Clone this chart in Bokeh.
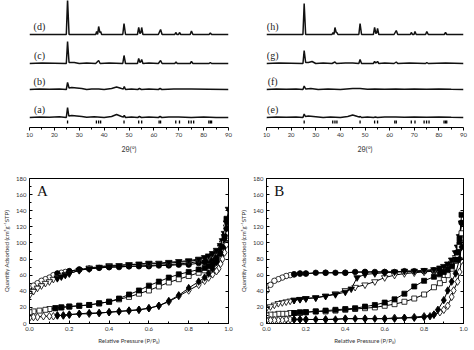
from bokeh.plotting import figure
from bokeh.layouts import gridplot
from bokeh.models import Label, LinearAxis, FixedTicker, Range1d
from bokeh.embed import file_html
from bokeh.resources import INLINE

# ---------------- XRD data (2theta, intensity above baseline) ----------------
ref_peaks = [25.3, 36.9, 37.8, 38.6, 48.0, 53.9, 55.1, 62.1, 62.7, 68.8, 70.3,
             74.0, 75.0, 76.0, 82.1, 82.7, 83.2]

xrd_a_x = [10, 14, 18, 22, 24.8, 25.3, 25.8, 27, 29, 31, 33, 36, 40, 43, 45, 47, 47.7, 48.1, 48.6, 51, 53.5, 54.2, 55, 58, 61.8, 62.5, 63.2, 66, 70, 75, 80, 85, 90]
xrd_a_y = [0, 0.6, 0.3, 0.7, 0, 10, 1.5, 2, 1.5, 1, 0.3, 0.8, 0, 1, 3, 1, 0.5, 2, 0, 0.6, 0, 1, 0, 0.6, 0, 1, 0, 0.6, 0.5, 0, 0.5, 0, 0]
xrd_b_x = [10, 14, 18, 22, 24.8, 25.3, 25.9, 27, 29, 31, 33, 35, 37.8, 40, 43, 45, 47, 47.7, 48.1, 48.6, 51, 53.5, 54.2, 55, 58, 61.8, 62.5, 63.2, 68, 75, 82, 90]
xrd_b_y = [0, 0.5, 0.2, 0.6, 0, 7, 1.5, 2, 1.5, 1, 0, 0.5, 0.5, 0, 1, 2.5, 1, 0.5, 3, 0, 0.5, 0, 1, 0, 0.5, 0, 1, 0, 0.4, 0.5, 0.3, 0]
xrd_c_x = [10, 15, 20, 24.8, 25.3, 25.9, 28, 30, 33, 36.6, 37.8, 38.4, 42, 47.5, 48.0, 48.6, 53.4, 53.9, 54.4, 54.8, 55.1, 55.6, 58, 61.8, 62.7, 63.3, 68.4, 68.9, 69.4, 74.6, 75.1, 75.7, 82.2, 82.7, 83.2, 90]
xrd_c_y = [0, 0.4, 0.2, 0, 22, 1, 1, 0, 0.5, 0, 3, 0, 0.4, 0, 8, 0, 0, 5, 1, 2, 4, 0, 0.4, 0, 3, 0, 0, 1.5, 0, 0, 2, 0, 0, 1, 0, 0]
xrd_d_x = [10, 24.8, 25.3, 25.9, 36.6, 37.0, 37.4, 37.8, 38.3, 38.6, 39.0, 47.5, 48.0, 48.6, 53.4, 53.9, 54.4, 54.8, 55.1, 55.6, 61.8, 62.7, 63.3, 68.4, 68.8, 69.3, 69.9, 70.3, 70.8, 74.6, 75.1, 75.7, 82.2, 82.7, 83.2, 90]
xrd_d_y = [0, 0, 35, 0, 0, 3, 0, 8, 2, 3, 0, 0, 11, 0, 0, 7, 1, 2, 7, 0, 0, 5, 0, 0, 2, 0, 0, 2, 0, 0, 3.5, 0, 0, 1.5, 0, 0]

xrd_e_x = [10, 14, 18, 22, 24.8, 25.3, 25.8, 27, 29, 31, 33, 36, 40, 43, 45, 47, 47.7, 48.1, 48.6, 51, 53.5, 54.2, 55, 58, 62.5, 66, 70, 75, 80, 85, 90]
xrd_e_y = [0, 0.5, 0.2, 0.6, 0, 3.5, 1, 1.5, 1, 0.5, 0, 0.5, 0, 1, 2.5, 1, 0.5, 1, 0, 0.5, 0, 0.5, 0, 0.4, 0.5, 0.2, 0.5, 0.3, 0.5, 0.2, 0]
xrd_f_x = [10, 14, 18, 22, 24.8, 25.3, 25.9, 28, 31, 35, 40, 45, 48, 51, 54, 58, 62.5, 66, 70, 75, 80, 85, 90]
xrd_f_y = [0, 0.5, 0.2, 0.6, 0, 3.5, 0.5, 1, 0, 0.4, 0, 1, 1, 0.3, 0.5, 0.2, 0.5, 0.2, 0.5, 0.3, 0.5, 0.2, 0]
xrd_g_x = [10, 15, 20, 24.8, 25.3, 25.9, 27, 28.5, 30, 33, 36.6, 37.8, 38.4, 42, 45, 47.5, 48.0, 48.6, 53.4, 53.9, 54.4, 55.1, 55.6, 58, 61.8, 62.7, 63.3, 68, 74.6, 75.1, 75.7, 82.7, 90]
xrd_g_y = [0, 0.4, 0.2, 0, 13, 1, 1, 2, 0, 0.4, 0, 1.5, 0, 0.4, 0.5, 0, 4, 0, 0, 2, 0.5, 2, 0, 0.4, 0, 1.5, 0, 0.4, 0, 1, 0, 0.5, 0]
xrd_h_x = [10, 24.8, 25.3, 25.9, 36.6, 37.0, 37.4, 37.8, 38.3, 38.6, 39.0, 47.5, 48.0, 48.6, 53.4, 53.9, 54.4, 54.8, 55.1, 55.6, 61.8, 62.7, 63.3, 68.4, 68.8, 69.3, 69.9, 70.3, 70.8, 74.6, 75.1, 75.7, 82.2, 82.7, 83.2, 90]
xrd_h_y = [0, 0, 31, 0, 0, 2, 0, 7, 2, 2, 0, 0, 11, 0, 0, 7, 1, 2, 6, 0, 0, 4, 0, 0, 2, 0, 0, 3, 0, 0, 3, 0, 0, 2, 0, 0]

xrd_labels_left = ["(a)", "(b)", "(c)", "(d)"]
xrd_labels_right = ["(e)", "(f)", "(g)", "(h)"]
xrd_ticks = [10, 20, 30, 40, 50, 60, 70, 80, 90]

# ---------------- Isotherm data (P/P0, quantity adsorbed) ----------------
A_circ_ads_x = [0.14, 0.2, 0.25, 0.3, 0.35, 0.4, 0.45, 0.5, 0.55, 0.6, 0.65, 0.7, 0.75, 0.8, 0.85, 0.88, 0.9, 0.92, 0.94, 0.96, 0.97, 0.98, 0.99]
A_circ_ads_y = [62, 65, 67, 68, 69, 70, 70, 71, 71, 71, 72, 72, 73, 73, 75, 76, 78, 80, 83, 88, 93, 100, 118]
A_circ_des_x = [0.99, 0.98, 0.97, 0.96, 0.94, 0.92, 0.9, 0.85, 0.8, 0.7, 0.6, 0.5, 0.4, 0.3, 0.25, 0.2, 0.18, 0.16, 0.14, 0.12, 0.1, 0.08, 0.06, 0.04, 0.02, 0.0]
A_circ_des_y = [106, 98, 93, 89, 85, 82, 80, 77, 75, 73, 72, 71, 70, 68, 67, 65, 64, 63, 62, 60, 57, 55, 53, 50, 47, 40]
A_tri_ads_x = [0.14, 0.16, 0.18, 0.2, 0.25, 0.3, 0.35, 0.4, 0.45, 0.5, 0.55, 0.6, 0.65, 0.7, 0.75, 0.8, 0.85, 0.88, 0.9, 0.92, 0.94, 0.96, 0.97, 0.98, 0.99, 1.0]
A_tri_ads_y = [56, 58, 60, 62, 66, 68, 70, 71, 72, 73, 74, 75, 75, 76, 77, 78, 80, 82, 84, 87, 91, 97, 103, 112, 125, 142]
A_tri_des_x = [0.99, 0.98, 0.97, 0.96, 0.94, 0.92, 0.9, 0.85, 0.8, 0.7, 0.6, 0.5, 0.4, 0.3, 0.25, 0.2, 0.18, 0.16, 0.14, 0.12, 0.1, 0.08, 0.06, 0.04, 0.02, 0.0]
A_tri_des_y = [120, 108, 100, 95, 89, 85, 82, 79, 77, 75, 74, 73, 72, 69, 66, 62, 61, 59, 57, 55, 52, 50, 47, 44, 40, 35]
A_sq_ads_x = [0.13, 0.16, 0.2, 0.25, 0.3, 0.35, 0.4, 0.45, 0.5, 0.55, 0.6, 0.65, 0.7, 0.75, 0.8, 0.85, 0.88, 0.9, 0.92, 0.94, 0.96, 0.97, 0.98, 0.99]
A_sq_ads_y = [19, 20, 21, 22, 23, 25, 27, 31, 36, 41, 47, 52, 57, 61, 64, 67, 69, 71, 74, 79, 87, 95, 108, 130]
A_sq_des_x = [0.99, 0.98, 0.97, 0.96, 0.94, 0.92, 0.9, 0.88, 0.85, 0.8, 0.75, 0.7, 0.65, 0.6, 0.55, 0.5, 0.45, 0.4, 0.35, 0.3, 0.25, 0.2, 0.16, 0.13, 0.1, 0.08, 0.05, 0.02, 0.0]
A_sq_des_y = [112, 100, 92, 86, 78, 73, 69, 66, 63, 59, 55, 51, 46, 41, 37, 33, 30, 27, 25, 23, 22, 21, 20, 19, 18, 17, 16, 15, 14]
A_dia_ads_x = [0.14, 0.17, 0.2, 0.25, 0.3, 0.35, 0.4, 0.45, 0.5, 0.55, 0.6, 0.65, 0.7, 0.75, 0.8, 0.85, 0.88, 0.9, 0.92, 0.94, 0.96, 0.98, 0.99]
A_dia_ads_y = [10, 10, 11, 12, 13, 13, 14, 15, 16, 17, 19, 22, 28, 35, 44, 52, 57, 62, 68, 76, 88, 105, 118]
A_dia_des_x = [0.99, 0.98, 0.97, 0.96, 0.95, 0.94, 0.92, 0.9, 0.88, 0.85, 0.8, 0.75, 0.7, 0.65, 0.6, 0.55, 0.5, 0.45, 0.4, 0.35, 0.3, 0.25, 0.2, 0.17, 0.14, 0.12, 0.1, 0.07, 0.04, 0.02, 0.0]
A_dia_des_y = [98, 88, 80, 74, 68, 65, 61, 57, 53, 48, 41, 34, 27, 22, 19, 17, 16, 15, 14, 13, 12, 12, 11, 10, 10, 9, 9, 9, 8, 8, 7]

B_circ_ads_x = [0.14, 0.17, 0.2, 0.25, 0.3, 0.35, 0.4, 0.45, 0.5, 0.55, 0.6, 0.65, 0.7, 0.75, 0.8, 0.85, 0.88, 0.9, 0.92, 0.94, 0.96, 0.97, 0.98, 0.99]
B_circ_ads_y = [61, 62, 62, 63, 63, 63, 63, 64, 64, 64, 64, 64, 65, 65, 65, 66, 67, 68, 70, 73, 80, 88, 100, 125]
B_circ_des_x = [0.99, 0.98, 0.97, 0.96, 0.94, 0.92, 0.9, 0.85, 0.8, 0.7, 0.6, 0.5, 0.4, 0.3, 0.2, 0.17, 0.14, 0.12, 0.1, 0.08, 0.06, 0.04, 0.02, 0.0]
B_circ_des_y = [110, 95, 85, 78, 72, 69, 67, 65, 65, 64, 64, 64, 63, 63, 62, 62, 61, 60, 59, 57, 55, 53, 48, 41]
B_tri_ads_x = [0.14, 0.17, 0.2, 0.25, 0.3, 0.35, 0.4, 0.43, 0.46, 0.5, 0.55, 0.6, 0.65, 0.7, 0.75, 0.8, 0.85, 0.88, 0.9, 0.92, 0.94, 0.96, 0.97, 0.98, 0.99]
B_tri_ads_y = [29, 30, 31, 32, 34, 36, 39, 43, 57, 61, 62, 63, 64, 65, 65, 66, 67, 69, 71, 74, 79, 88, 95, 108, 125]
B_tri_des_x = [0.99, 0.98, 0.97, 0.96, 0.94, 0.92, 0.9, 0.85, 0.8, 0.75, 0.7, 0.65, 0.6, 0.55, 0.5, 0.45, 0.4, 0.35, 0.3, 0.25, 0.2, 0.17, 0.14, 0.12, 0.1, 0.08, 0.06, 0.04, 0.02, 0.0]
B_tri_des_y = [105, 95, 88, 82, 75, 71, 68, 65, 64, 63, 62, 60, 57, 52, 48, 45, 41, 37, 34, 32, 31, 30, 29, 28, 27, 26, 25, 23, 21, 19]
B_sq_ads_x = [0.14, 0.17, 0.2, 0.25, 0.3, 0.35, 0.4, 0.45, 0.5, 0.55, 0.6, 0.65, 0.7, 0.75, 0.8, 0.85, 0.88, 0.9, 0.92, 0.94, 0.96, 0.97, 0.98, 0.99]
B_sq_ads_y = [13, 14, 14, 15, 16, 17, 18, 19, 21, 23, 26, 30, 37, 46, 53, 58, 61, 64, 67, 71, 79, 88, 105, 135]
B_sq_des_x = [0.99, 0.98, 0.97, 0.96, 0.94, 0.92, 0.9, 0.88, 0.85, 0.8, 0.75, 0.7, 0.65, 0.6, 0.55, 0.5, 0.45, 0.4, 0.35, 0.3, 0.25, 0.2, 0.17, 0.14, 0.12, 0.1, 0.08, 0.06, 0.04, 0.02, 0.0]
B_sq_des_y = [112, 95, 85, 78, 68, 60, 54, 50, 45, 36, 31, 27, 24, 22, 20, 19, 18, 17, 16, 15, 15, 14, 13, 13, 13, 12, 12, 12, 11, 11, 10]
B_dia_ads_x = [0.14, 0.17, 0.2, 0.25, 0.3, 0.35, 0.4, 0.45, 0.5, 0.55, 0.6, 0.65, 0.7, 0.75, 0.8, 0.83, 0.85, 0.87, 0.9, 0.92, 0.94, 0.96, 0.98, 0.99]
B_dia_ads_y = [5, 5, 5, 5, 5, 5, 6, 6, 6, 6, 6, 6, 7, 7, 8, 9, 11, 17, 29, 41, 52, 62, 80, 95]
B_dia_des_x = [0.99, 0.98, 0.97, 0.95, 0.94, 0.92, 0.9, 0.88, 0.85, 0.8, 0.75, 0.7, 0.65, 0.6, 0.5, 0.4, 0.3, 0.2, 0.17, 0.14, 0.12, 0.1, 0.08, 0.06, 0.04, 0.02, 0.0]
B_dia_des_y = [78, 64, 52, 41, 33, 22, 17, 14, 11, 9, 8, 7, 7, 6, 6, 6, 5, 5, 5, 5, 5, 5, 4, 4, 4, 4, 4]

iso_ticks = [0.0, 0.2, 0.4, 0.6, 0.8, 1.0]
qty_ticks = [0, 20, 40, 60, 80, 100, 120, 140, 160, 180]

SANS = "Lato"
SERIF = "Liberation Serif"


def xrd_fig(traces, labels, left_border, right_border, label_x):
    p = figure(width=237, height=160, x_range=Range1d(10, 90), y_range=Range1d(0, 127),
               output_backend="svg", toolbar_location=None,
               min_border_left=left_border, min_border_right=right_border,
               min_border_top=0, min_border_bottom=33, y_axis_location=None)
    p.outline_line_color = None
    p.xgrid.visible = False
    p.ygrid.visible = False
    p.background_fill_color = "white"
    offsets = [10, 38, 64, 93]
    for (xs, ys), off, lab in zip(traces, offsets, labels):
        p.line(xs, [v + off for v in ys], line_color="#111111", line_width=1.5)
        p.add_layout(Label(x=label_x, y=off + 8, text=lab, text_font=SERIF,
                           text_font_size="10px", text_align="center",
                           text_baseline="middle", text_color="#222222"))
    # reference peak bars under the lowest trace
    p.segment(x0=ref_peaks, x1=ref_peaks, y0=[4] * len(ref_peaks), y1=[7] * len(ref_peaks),
              line_color="black", line_width=1.3)
    ax = p.xaxis[0]
    ax.ticker = FixedTicker(ticks=xrd_ticks, minor_ticks=[15, 25, 35, 45, 55, 65, 75, 85])
    ax.axis_label = "2θ(°)"
    ax.axis_label_text_font = SANS
    ax.axis_label_text_font_size = "7px"
    ax.axis_label_text_font_style = "normal"
    ax.axis_label_text_color = "#333333"
    ax.axis_label_standoff = 5
    ax.major_label_text_font = SANS
    ax.major_label_text_font_size = "6px"
    ax.major_label_text_color = "#333333"
    ax.major_label_standoff = 2
    ax.major_tick_in = 0
    ax.major_tick_out = 3
    ax.minor_tick_in = 0
    ax.minor_tick_out = 2
    ax.axis_line_color = "black"
    return p


def iso_fig(series, letter):
    p = figure(width=237, height=190, x_range=Range1d(0, 1), y_range=Range1d(0, 180),
               output_backend="svg", toolbar_location=None,
               min_border_left=28, min_border_right=7, min_border_top=18, min_border_bottom=27)
    p.xgrid.visible = False
    p.ygrid.visible = False
    p.outline_line_color = "black"
    p.outline_line_width = 1
    markers = ["circle", "inverted_triangle", "square", "diamond"]
    sizes = [5.5, 6.5, 5, 7.5]
    for (ax_, ay_, dx_, dy_), m, s in zip(series, markers, sizes):
        p.line(dx_, dy_, line_color="black", line_width=1)
        p.line(ax_, ay_, line_color="black", line_width=1)
        p.scatter(dx_, dy_, marker=m, size=s, fill_color="white", line_color="black", line_width=0.8)
        p.scatter(ax_, ay_, marker=m, size=s, fill_color="black", line_color="black", line_width=0.8)
    p.add_layout(Label(x=0.065, y=164, text=letter, text_font=SERIF, text_font_size="15px",
                       text_align="center", text_baseline="middle", text_color="#111111"))
    xa = p.xaxis[0]
    xa.ticker = FixedTicker(ticks=iso_ticks, minor_ticks=[0.1, 0.3, 0.5, 0.7, 0.9])
    xa.major_label_overrides = {0.0: "0.0", 0.2: "0.2", 0.4: "0.4", 0.6: "0.6", 0.8: "0.8", 1.0: "1.0"}
    xa.axis_label = "Relative Pressure (P/P₀)"
    ya = p.yaxis[0]
    ya.ticker = FixedTicker(ticks=qty_ticks, minor_ticks=[10, 30, 50, 70, 90, 110, 130, 150, 170])
    ya.axis_label = "Quantity Adsorbed (cm³g⁻¹STP)"
    for a in (xa, ya):
        a.axis_label_text_font = SANS
        a.axis_label_text_font_size = "6px"
        a.axis_label_text_font_style = "normal"
        a.axis_label_text_color = "#333333"
        a.axis_label_standoff = 3
        a.major_label_text_font = SANS
        a.major_label_text_font_size = "6px"
        a.major_label_text_color = "#333333"
        a.major_label_standoff = 3
        a.major_tick_in = 3
        a.major_tick_out = 0
        a.minor_tick_in = 2
        a.minor_tick_out = 0
        a.axis_line_color = "black"
    ra = LinearAxis(ticker=FixedTicker(ticks=qty_ticks),
                    major_label_overrides={t: "" for t in qty_ticks},
                    major_label_text_font_size="6px",
                    major_tick_in=3, major_tick_out=0, minor_tick_in=0, minor_tick_out=0,
                    major_label_standoff=0, axis_line_color="black")
    p.add_layout(ra, "right")
    return p


pA_top = xrd_fig([(xrd_a_x, xrd_a_y), (xrd_b_x, xrd_b_y), (xrd_c_x, xrd_c_y), (xrd_d_x, xrd_d_y)],
                 xrd_labels_left, 26, 9, 14)
pB_top = xrd_fig([(xrd_e_x, xrd_e_y), (xrd_f_x, xrd_f_y), (xrd_g_x, xrd_g_y), (xrd_h_x, xrd_h_y)],
                 xrd_labels_right, 26, 11, 12.5)

pA = iso_fig([(A_circ_ads_x, A_circ_ads_y, A_circ_des_x, A_circ_des_y),
              (A_tri_ads_x, A_tri_ads_y, A_tri_des_x, A_tri_des_y),
              (A_sq_ads_x, A_sq_ads_y, A_sq_des_x, A_sq_des_y),
              (A_dia_ads_x, A_dia_ads_y, A_dia_des_x, A_dia_des_y)], "A")
pB = iso_fig([(B_circ_ads_x, B_circ_ads_y, B_circ_des_x, B_circ_des_y),
              (B_tri_ads_x, B_tri_ads_y, B_tri_des_x, B_tri_des_y),
              (B_sq_ads_x, B_sq_ads_y, B_sq_des_x, B_sq_des_y),
              (B_dia_ads_x, B_dia_ads_y, B_dia_des_x, B_dia_des_y)], "B")

grid = gridplot([[pA_top, pB_top], [pA, pB]], toolbar_location=None)
open("out.html", "w").write(file_html(grid, INLINE))
